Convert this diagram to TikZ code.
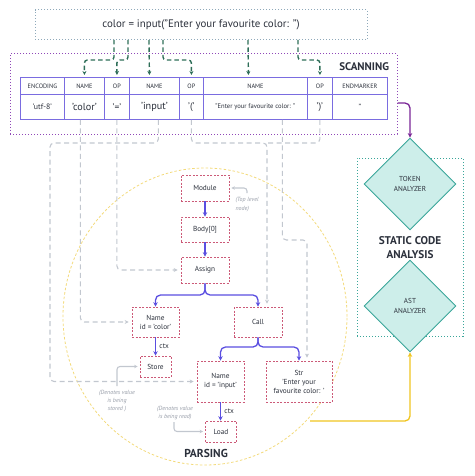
\documentclass[tikz,border=0pt]{standalone}
\usepackage{fontspec}
\setmainfont{PT Sans}
\usetikzlibrary{shapes.geometric,arrows.meta,calc}
\definecolor{txt}{HTML}{2B303B}
\definecolor{codeb}{HTML}{8FA9BA}
\definecolor{scanb}{HTML}{9048B8}
\definecolor{tablec}{HTML}{7A6CE0}
\definecolor{greena}{HTML}{2E6E58}
\definecolor{purplea}{HTML}{7A2596}
\definecolor{tealb}{HTML}{3AA69A}
\definecolor{tealf}{HTML}{CDEEEA}
\definecolor{nodered}{HTML}{CC5A78}
\definecolor{bluea}{HTML}{5A4EE0}
\definecolor{grayd}{HTML}{C2C7CF}
\definecolor{annot}{HTML}{979DA8}
\definecolor{yellowc}{HTML}{F3DA7A}
\definecolor{yellowa}{HTML}{F0C420}
\begin{document}
\begin{tikzpicture}[x=1pt,y=-1pt,
  hcell/.style={draw=tablec, line width=0.8pt, minimum height=17.5pt, inner sep=0pt, anchor=north west, fill=white, font=\fontsize{6.3}{7}\selectfont},
  vcell/.style={draw=tablec, line width=0.8pt, minimum height=24.5pt, inner sep=0pt, anchor=north west, fill=white},
  tree/.style={draw=nodered, dash pattern=on 2pt off 1.5pt, line width=0.75pt, fill=white, inner sep=1pt, align=center, font=\fontsize{7.3}{9}\selectfont},
  barr/.style={draw=bluea, line width=1.3pt, rounded corners=5pt, -{Stealth[length=4.5pt,width=4.5pt]}},
  gd/.style={draw=grayd, line width=1.1pt, dash pattern=on 5pt off 3.5pt, rounded corners=4pt},
  gda/.style={gd, -{Stealth[length=4pt,width=4pt]}},
  garr/.style={draw=greena, line width=1.4pt, dash pattern=on 4.5pt off 3pt, rounded corners=3pt, -{Stealth[length=4pt,width=4pt]}},
  ann/.style={text=annot, font=\fontsize{6}{8.2}\selectfont\itshape, align=center},
  annarr/.style={draw=grayd, line width=1.1pt, rounded corners=3pt, -{Stealth[length=3.5pt,width=3.5pt]}},
  diam/.style={diamond, aspect=1, draw=tealb, fill=tealf, line width=0.9pt, minimum size=92pt, inner sep=0pt, align=center, font=\fontsize{7.2}{9.5}\selectfont}
]
\useasboundingbox (0,0) rectangle (474,476);
\begin{scope}[color=txt]
% code box
\node[draw=codeb, dash pattern=on 1.2pt off 1.8pt, line width=1pt, minimum width=332pt, minimum height=30pt, inner sep=0pt, font=\fontsize{10.9}{12}\selectfont] (code) at (201,25) {color = input("Enter your favourite color: ")};
% scanning box
\node[draw=scanb, dash pattern=on 1.2pt off 1.8pt, line width=1pt, minimum width=387pt, minimum height=80pt, inner sep=0pt] (scan) at (203.5,94) {};
\node[anchor=east, font=\fontsize{11}{12}\selectfont\bfseries] (scanlbl) at (392.5,67) {SCANNING};
% table header
\node[hcell, minimum width=44pt] (h1) at (20,77) {ENCODING};
\node[hcell, minimum width=40pt] (h2) at (64,77) {NAME};
\node[hcell, minimum width=25pt] (h3) at (104,77) {OP};
\node[hcell, minimum width=50pt] (h4) at (129,77) {NAME};
\node[hcell, minimum width=24pt] (h5) at (179,77) {OP};
\node[hcell, minimum width=104pt] (h6) at (203,77) {NAME};
\node[hcell, minimum width=25pt] (h7) at (307,77) {OP};
\node[hcell, minimum width=55pt] (h8) at (332,77) {ENDMARKER};
% table values
\node[vcell, minimum width=44pt, font=\fontsize{7.8}{9}\selectfont] (v1) at (20,94.5) {'utf-8'};
\node[vcell, minimum width=40pt, font=\fontsize{10.2}{11}\selectfont] (v2) at (64,94.5) {'color'};
\node[vcell, minimum width=25pt, font=\fontsize{9.5}{11}\selectfont] (v3) at (104,94.5) {'='};
\node[vcell, minimum width=50pt, font=\fontsize{10.2}{11}\selectfont] (v4) at (129,94.5) {'input'};
\node[vcell, minimum width=24pt, font=\fontsize{9.5}{11}\selectfont] (v5) at (179,94.5) {'('};
\node[vcell, minimum width=104pt, font=\fontsize{6.6}{7}\selectfont] (v6) at (203,94.5) {''Enter your favourite color: ''};
\node[vcell, minimum width=25pt, font=\fontsize{9.5}{11}\selectfont] (v7) at (307,94.5) {')'};
\node[vcell, minimum width=55pt, font=\fontsize{7.5}{8}\selectfont] (v8) at (332,94.5) {''};
% green arrows
\coordinate (c1) at (114,40);
\coordinate (c2) at (128,40);
\coordinate (c3) at (149,40);
\coordinate (c4) at (163,40);
\coordinate (c5) at (248,40);
\coordinate (c6) at (298,40);
\draw[garr] (c1) -- (114,60) -| ([yshift=2pt]h2.north);
\draw[garr] (c2) -- (128,60) -| ([yshift=2pt]h3.north);
\draw[garr] (c3) -- ([xshift=-5pt,yshift=2pt]h4.north);
\draw[garr] (c4) -- (163,60) -| ([yshift=2pt]h5.north);
\draw[garr] (c5) -- ([xshift=-7pt,yshift=2pt]h6.north);
\draw[garr] (c6) -- (298,60) -| ([yshift=2pt]h7.north);
% static code analysis
\node[draw=tealb, dash pattern=on 1.2pt off 1.8pt, line width=1pt, minimum width=106pt, minimum height=178pt, inner sep=0pt] (sca) at (410,247) {};
\node[diam] (token) at (410,184) {TOKEN\\ANALYZER};
\node[diam] (ast) at (410,306) {AST\\ANALYZER};
\node[align=center, font=\fontsize{11.2}{14}\selectfont\bfseries] (scalbl) at (410,248) {STATIC CODE\\ANALYSIS};
\draw[draw=purplea, line width=1.3pt, rounded corners=5pt, -{Stealth[length=4.5pt,width=4.5pt]}] ([yshift=-9pt]scan.east) -| (token.north);
% parsing ellipse
\node[draw=yellowc, dash pattern=on 2.5pt off 2pt, line width=0.8pt, ellipse, minimum width=284pt, minimum height=297pt, inner sep=0pt] (parsing) at (205,316.5) {};
\node[font=\fontsize{11.5}{13}\selectfont\bfseries] (parslbl) at (206,453) {PARSING};
\coordinate (ystart) at (310,421);
\draw[draw=yellowa, line width=1.3pt, rounded corners=5pt, -{Stealth[length=4.5pt,width=4.5pt]}] (ystart) -| (ast.south);
% tree nodes
\node[tree, minimum width=48pt, minimum height=26pt] (module) at (205,188) {Module};
\node[tree, minimum width=48pt, minimum height=25pt] (body) at (205,229.5) {Body[0]};
\node[tree, minimum width=48pt, minimum height=26pt] (assign) at (205,270) {Assign};
\node[tree, minimum width=47pt, minimum height=30pt] (ncolor) at (155.5,322) {Name\\id = 'color'};
\node[tree, minimum width=48pt, minimum height=30pt] (call) at (258,322) {Call};
\node[tree, minimum width=31pt, minimum height=21pt] (store) at (155.5,366.5) {Store};
\node[tree, minimum width=47pt, minimum height=41pt] (ninput) at (220.5,381.5) {Name\\id = 'input'};
\node[tree, minimum width=66pt, minimum height=41pt] (str) at (299,381.5) {Str\\'Enter your\\favourite color: '};
\node[tree, minimum width=31pt, minimum height=21pt] (load) at (221,431.5) {Load};
% blue arrows
\draw[barr] (module.south) -- (body.north);
\draw[barr] (body.south) -- (assign.north);
\draw[barr] (assign.south) -- (205,295) -| (ncolor.north);
\draw[barr] (assign.south) -- (205,295) -| (call.north);
\draw[barr] (call.south) -- (258,347) -| (ninput.north);
\draw[barr] (call.south) -- (258,347) -| (str.north);
\draw[barr] (ncolor.south) -- (store.north) node[midway, right, font=\fontsize{7.3}{8}\selectfont] {ctx};
\draw[barr] (ninput.south) -- (ninput.south |- load.north) node[midway, right, font=\fontsize{7.3}{8}\selectfont] {ctx};
% gray dashed connectors
\draw[gda] ([xshift=4pt]v4.south) |- (50,143) |- ([xshift=-3pt]ninput.west);
\draw[gda] ([xshift=-4pt]v2.south) |- ([xshift=-3pt]ncolor.west);
\draw[gda] (v3.south) |- ([xshift=-3pt]assign.west);
\draw[gda] (v5.south) |- (267,143) -- ([xshift=9pt,yshift=3pt]call.north);
\draw[gd] (v7.south) |- (267,143);
\draw[gda] ([xshift=27pt]v6.south) |- (307,240) -- ([xshift=8pt,yshift=3pt]str.north);
% annotations
\node[ann, anchor=north west, align=left] (toplvl) at (232,194) {(Top level\\node)};
\coordinate (a1) at (247,193);
\draw[annarr] (a1) |- ([xshift=2pt]module.east);
\node[ann] (stored) at (117,401) {(Denotes value\\is being\\stored )};
\coordinate (a2) at (117,386);
\draw[annarr] (a2) |- ([xshift=-2pt]store.west);
\node[ann] (read) at (175,413) {(Denotes value\\is being read)};
\coordinate (a3) at (174,422);
\draw[annarr] (a3) |- ([xshift=-2pt]load.west);
\end{scope}
\end{tikzpicture}
\end{document}
